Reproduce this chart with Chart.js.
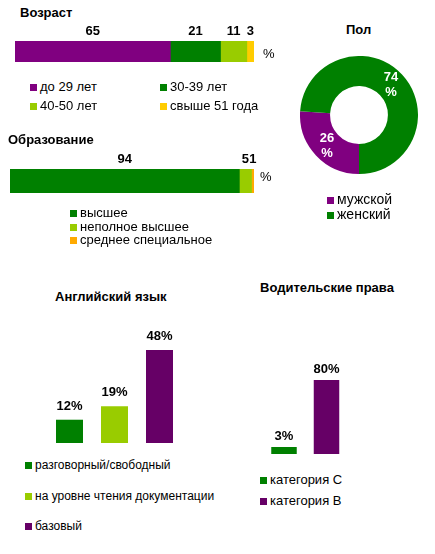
<!DOCTYPE html>
<html>
<head>
<meta charset="utf-8">
<script src="https://cdn.jsdelivr.net/npm/chart.js@4.4.0/dist/chart.umd.min.js"></script>
<style>
  body { margin: 0; background: #fff; font-family: "Liberation Sans", Arial, sans-serif; color: #000; }
  #page { position: relative; width: 435px; height: 554px; overflow: hidden; }
  .abs { position: absolute; }
  .title { position: absolute; font-weight: bold; font-size: 13px; white-space: nowrap; }
  .pct { position: absolute; font-size: 13px; }
  .leg { position: absolute; font-size: 13px; white-space: nowrap; }
  .leg span.sq { display: inline-block; width: 7px; height: 7px; margin-right: 3px; vertical-align: 0px; }
</style>
</head>
<body>
<div id="page">
  <div class="title" style="left:20px; top:5px;">Возраст</div>
  <canvas id="age-chart" class="abs" style="left:0; top:20px; width:290px; height:45px;"></canvas>
  <div class="pct" style="left:263px; top:46px;">%</div>
  <div id="age-legend"></div>

  <div class="title" style="left:8px; top:132px;">Образование</div>
  <canvas id="edu-chart" class="abs" style="left:0; top:150px; width:290px; height:45px;"></canvas>
  <div class="pct" style="left:260px; top:169px;">%</div>
  <div id="edu-legend"></div>

  <div class="title" style="left:346px; top:22px;">Пол</div>
  <canvas id="sex-chart" class="abs" style="left:300px; top:56px; width:118px; height:118px;"></canvas>
  <div id="sex-legend"></div>

  <div class="title" style="left:55px; top:289px;">Английский язык</div>
  <canvas id="eng-chart" class="abs" style="left:0; top:310px; width:230px; height:135px;"></canvas>
  <div id="eng-legend"></div>

  <div class="title" style="left:260px; top:280px;">Водительские права</div>
  <canvas id="drv-chart" class="abs" style="left:240px; top:340px; width:150px; height:116px;"></canvas>
  <div id="drv-legend"></div>
</div>

<script>
// ДАННЫЕ
const ageLabels = ["до 29 лет", "30-39 лет", "40-50 лет", "свыше 51 года"];
const ageValues = [65, 21, 11, 3];
const ageColors = ["#800080", "#008000", "#99CC00", "#FFCC00"];

const eduLabels = ["высшее", "неполное высшее", "среднее специальное"];
const eduValues = [94, 5, 1];
const eduColors = ["#008000", "#99CC00", "#FFAA00"];

const sexLabels = ["мужской", "женский"];
const sexValues = [26, 74];
const sexColors = ["#800080", "#008000"];

const engLabels = ["разговорный/свободный", "на уровне чтения документации", "базовый"];
const engValues = [12, 19, 48];
const engColors = ["#008000", "#99CC00", "#660066"];

const drvLabels = ["категория С", "категория В"];
const drvValues = [3, 80];
const drvColors = ["#008000", "#660066"];

const FONT = "Liberation Sans";

// ПОДПИСИ ЗНАЧЕНИЙ
const valueLabels = {
  id: "valueLabels",
  afterDatasetsDraw(chart, args, opts) {
    const ctx = chart.ctx;
    ctx.save();
    ctx.font = "bold 13px '" + FONT + "'";
    ctx.fillStyle = opts.color || "#000";
    ctx.textAlign = "center";
    chart.data.datasets.forEach((ds, di) => {
      const meta = chart.getDatasetMeta(di);
      meta.data.forEach((el, i) => {
        const v = ds.data[i];
        const txt = v + (opts.suffix || "");
        if (opts.mode === "stack") {
          const p = el.getProps(["x", "y", "base", "height"], true);
          ctx.textBaseline = "bottom";
          ctx.fillText(txt, (p.x + p.base) / 2, p.y - p.height / 2 - opts.offset);
        } else if (opts.mode === "arc") {
          const p = el.tooltipPosition(true);
          ctx.textBaseline = "middle";
          ctx.fillText(String(v), p.x, p.y - 7);
          ctx.fillText("%", p.x, p.y + 8);
        } else {
          const p = el.getProps(["x", "y"], true);
          ctx.textBaseline = "bottom";
          ctx.fillText(txt, p.x, p.y - opts.offset);
        }
      });
    });
    ctx.restore();
  },
};

function stackChart(id, labels, values, colors, padding) {
  new Chart(document.getElementById(id), {
    type: "bar",
    data: {
      labels: [""],
      datasets: labels.map((l, i) => ({
        label: l,
        data: [values[i]],
        backgroundColor: colors[i],
        borderWidth: 0,
        barPercentage: 1,
        categoryPercentage: 1,
      })),
    },
    options: {
      indexAxis: "y",
      animation: false,
      responsive: false,
      layout: { padding: padding },
      plugins: {
        legend: { display: false },
        tooltip: { enabled: false },
        valueLabels: { mode: "stack", offset: 3 },
      },
      scales: {
        x: { stacked: true, display: false, min: 0, max: 100 },
        y: { stacked: true, display: false },
      },
    },
    plugins: [valueLabels],
  });
}

function columnChart(id, labels, values, colors, max, padding, offset, minLen) {
  new Chart(document.getElementById(id), {
    type: "bar",
    data: {
      labels: labels,
      datasets: [
        {
          data: values,
          backgroundColor: colors,
          borderWidth: 0,
          barPercentage: 0.6,
          categoryPercentage: 1,
          minBarLength: minLen || 0,
        },
      ],
    },
    options: {
      animation: false,
      responsive: false,
      layout: { padding: padding },
      plugins: {
        legend: { display: false },
        tooltip: { enabled: false },
        valueLabels: { mode: "column", suffix: "%", offset: offset },
      },
      scales: {
        x: { display: false },
        y: { display: false, min: 0, max: max },
      },
    },
    plugins: [valueLabels],
  });
}

function legend(id, labels, colors, items) {
  const box = document.getElementById(id);
  labels.forEach((l, i) => {
    const d = document.createElement("div");
    d.className = "leg";
    d.style.left = items[i][0] + "px";
    d.style.top = items[i][1] + "px";
    if (items[i][2]) d.style.fontSize = items[i][2] + "px";
    d.innerHTML = '<span class="sq" style="background:' + colors[i] + '"></span>';
    d.appendChild(document.createTextNode(l));
    box.appendChild(d);
  });
}

// ВОЗРАСТ
stackChart("age-chart", ageLabels, ageValues, ageColors, { left: 15, right: 36, top: 21, bottom: 3 });
legend("age-legend", ageLabels, ageColors, [[30, 79], [160, 79], [30, 98], [160, 98]]);

// ОБРАЗОВАНИЕ
stackChart("edu-chart", eduLabels, eduValues, eduColors, { left: 10, right: 36, top: 19, bottom: 2 });
legend("edu-legend", eduLabels, eduColors, [[70, 205], [70, 219], [70, 232]]);

// ПОЛ
new Chart(document.getElementById("sex-chart"), {
  type: "doughnut",
  data: {
    labels: sexLabels,
    datasets: [{ data: sexValues, backgroundColor: sexColors, borderWidth: 0 }],
  },
  options: {
    animation: false,
    responsive: false,
    rotation: 180,
    cutout: "49%",
    layout: { padding: 0 },
    plugins: {
      legend: { display: false },
      tooltip: { enabled: false },
      valueLabels: { mode: "arc", color: "#fff" },
    },
  },
  plugins: [valueLabels],
});
legend("sex-legend", sexLabels, sexColors, [[327, 191, 14], [327, 206, 14]]);

// АНГЛИЙСКИЙ ЯЗЫК
columnChart("eng-chart", engLabels, engValues, engColors, 50, { left: 47, right: 48, top: 36, bottom: 2 }, 7);
legend("eng-legend", engLabels, engColors, [[25, 458, 12], [25, 489, 12], [25, 519, 12]]);

// ВОДИТЕЛЬСКИЕ ПРАВА
columnChart("drv-chart", drvLabels, drvValues, drvColors, 100, { left: 22.75, right: 42.25, top: 21.5, bottom: 2 }, 4, 7);
legend("drv-legend", drvLabels, drvColors, [[260, 472], [260, 493]]);
</script>
</body>
</html>
